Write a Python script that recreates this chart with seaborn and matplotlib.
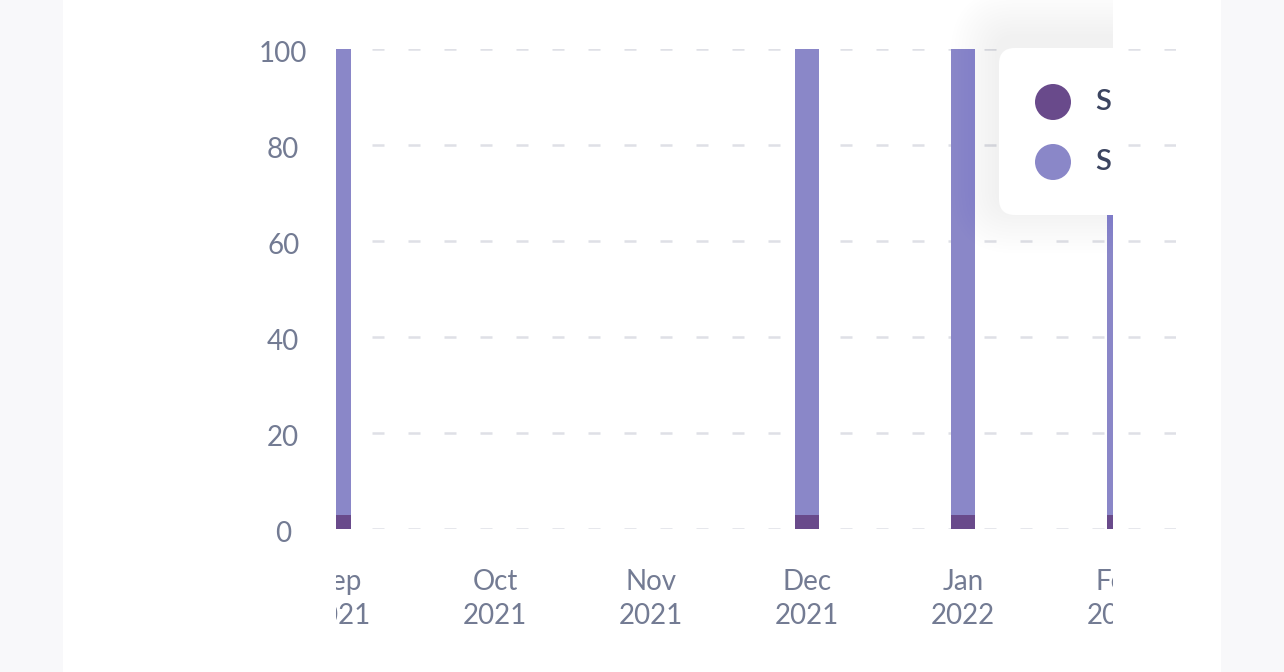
import matplotlib
matplotlib.use("Agg")
import matplotlib.pyplot as plt
import seaborn as sns
import pandas as pd
from matplotlib.patches import Rectangle, FancyBboxPatch, Ellipse
from matplotlib.transforms import Bbox, TransformedBbox, ScaledTranslation

# ---- data ----
months = ["Sep\n2021", "Oct\n2021", "Nov\n2021", "Dec\n2021", "Jan\n2022", "Feb\n2022"]
series_a = [3, 0, 0, 3, 3, 3]
series_b = [97, 0, 0, 97, 97, 97]
series_names = ["Series 1", "Series 2"]
yticks = [0, 20, 40, 60, 80, 100]

color_a = "#694a8b"
color_b = "#8a87c8"
tick_color = "#737b93"
legend_text_color = "#3c4560"
grid_color = "#dfe0e6"

sns.set_theme(style="white")
plt.rcParams["font.family"] = ["Lato", "DejaVu Sans"]
plt.rcParams["lines.scale_dashes"] = False

W, H = 1284, 672
fig = plt.figure(figsize=(W / 100, H / 100), dpi=100)
fig.patch.set_facecolor("#f8f8fa")

# white panel
fig.patches.append(Rectangle((63 / W, 0), (1221 - 63) / W, 1, transform=fig.transFigure,
                             facecolor="white", edgecolor="none", zorder=-5))

ax_left, ax_right = 336, 1176
y0_px, y100_px = 529, 49
ax = fig.add_axes([ax_left / W, (H - y0_px) / H, (ax_right - ax_left) / W, (y0_px - y100_px) / H])
ax.set_facecolor("none")

df = pd.DataFrame({"month": months,
                   "total": [a + b for a, b in zip(series_a, series_b)],
                   "a": series_a})

bar_w = 24 / 156
sns.barplot(data=df, x="month", y="total", order=months, color=color_b, width=bar_w,
            saturation=1, ax=ax, zorder=3, linewidth=0)
sns.barplot(data=df, x="month", y="a", order=months, color=color_a, width=bar_w,
            saturation=1, ax=ax, zorder=4, linewidth=0)

# x positions: Sep at 339 px, 156 px per month
first_px = 339
ax.set_xlim(-(first_px - ax_left) / 156, (ax_right - first_px) / 156)
ax.set_ylim(0, 100)
ax.set_yticks(yticks)
ax.set_yticklabels([str(v) for v in yticks])
ax.set_xlabel("")
ax.set_ylabel("")
for s in ax.spines.values():
    s.set_visible(False)

# dashed gridlines starting at x=372
for v in yticks:
    ax.axhline(v, xmin=(372 - ax_left) / (ax_right - ax_left), xmax=1, color=grid_color,
               lw=1.8, ls=(0, (8.64, 17.28)), zorder=1)

ax.tick_params(axis="both", length=0, labelsize=20, colors=tick_color)
ax.tick_params(axis="y", pad=38)
ax.tick_params(axis="x", pad=29)

clip = TransformedBbox(Bbox.from_extents(ax_left / W, 0, 1113 / W, 1), fig.transFigure)
for p in ax.patches:
    p.set_clip_box(clip)
    p.set_clip_on(True)
for lbl in ax.get_xticklabels():
    lbl.set_linespacing(1.38)
    lbl.set_clip_box(clip)
    lbl.set_clip_on(True)
ydown = ScaledTranslation(0, -2 / 100, fig.dpi_scale_trans)
for lbl in ax.get_yticklabels():
    lbl.set_horizontalalignment("center")
    lbl.set_transform(lbl.get_transform() + ydown)

# legend (manual, clipped at 1113)
def px(x, y):
    return x / W, (H - y) / H

lx0, ly0, lx1, ly1 = 999, 48, 1180, 215
r = 16
for i in range(14):
    pad = 4 + i * 3.4
    sh = FancyBboxPatch(px(lx0 - pad, ly1 + pad - 10), (lx1 - lx0 + 2 * pad) / W,
                        (ly1 - ly0 + 2 * pad) / H,
                        boxstyle=f"round,pad=0,rounding_size={(r + pad) / W}",
                        transform=fig.transFigure, facecolor=(0.45, 0.40, 0.80),
                        edgecolor="none", alpha=0.004, zorder=5, mutation_aspect=W / H)
    sh.set_clip_box(clip)
    fig.patches.append(sh)
box = FancyBboxPatch(px(lx0, ly1), (lx1 - lx0) / W, (ly1 - ly0) / H,
                     boxstyle=f"round,pad=0,rounding_size={r / W}",
                     transform=fig.transFigure, facecolor="white", edgecolor="none",
                     zorder=6, mutation_aspect=W / H)
box.set_clip_box(clip)
fig.patches.append(box)

for name, col, cy in zip(series_names, [color_a, color_b], [102, 162]):
    c = Ellipse(px(1053, cy), 36 / W, 36 / H, transform=fig.transFigure, facecolor=col,
                edgecolor="none", zorder=7)
    fig.patches.append(c)
    t = fig.text(1096 / W, (H - cy) / H, name, fontsize=21, color=legend_text_color,
                 va="center", ha="left", zorder=8, fontweight="semibold")
    t.set_clip_box(clip)
    t.set_clip_on(True)

fig.savefig("out.png", dpi=100, facecolor=fig.get_facecolor())
